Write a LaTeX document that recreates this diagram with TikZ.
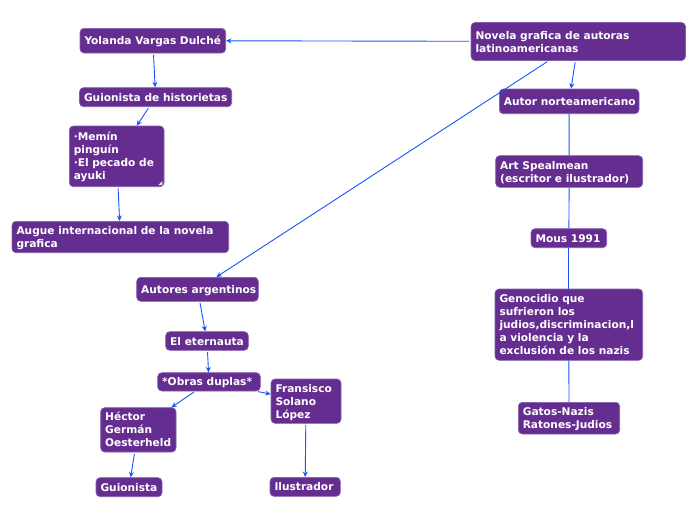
\documentclass[tikz,border=0pt]{standalone}
\usepackage{fontspec}
\setmainfont{DejaVu Sans}
\usetikzlibrary{arrows.meta}
\definecolor{boxfill}{RGB}{102,45,145}
\definecolor{boxline}{RGB}{130,95,170}
\definecolor{linkblue}{RGB}{25,85,255}
\tikzset{
  box/.style={rounded corners=4pt, fill=boxfill, draw=boxline, line width=0.6pt,
    text=white, inner sep=0pt, font=\fontsize{10.6}{13}\selectfont\bfseries},
  link/.style={draw=linkblue, line width=0.9pt, -{Stealth[length=5.5pt,width=5pt]}, shorten <=1.5pt},
  plainlink/.style={draw=linkblue, line width=0.9pt}
}
\newcommand\bx[6]{\node[box,minimum width={(#4-#2)*1pt},minimum height={(#5-#3)*1pt}] (#1) at ({(#2+#4)/2},{(#3+#5)/2}) {\raisebox{-1.5pt}[\height][\depth]{\makebox[\dimexpr#4pt-#2pt-9pt\relax][l]{\begin{tabular}{@{}l@{}}#6\end{tabular}}}};}
\begin{document}
\begin{tikzpicture}[x=1pt,y=-1pt]
\useasboundingbox[fill=white] (0,0) rectangle (697,520);
\bx{nov}{471}{22.5}{685.5}{60.5}{Novela grafica de autoras\\latinoamericanas}
\bx{yol}{80}{28.3}{225.7}{53}{Yolanda Vargas Dulché}
\bx{gh}{79.5}{87.7}{231.7}{106.7}{Guionista de historietas}
\bx{mem}{69.3}{126}{164}{186.7}{·Memín\\pinguín\\·El pecado de\\ayuki}
\bx{aug}{12}{221.3}{228.7}{252.7}{Augue internacional de la novela\\grafica}
\bx{arg}{136.7}{277.3}{258.3}{301.3}{Autores argentinos}
\bx{ete}{165.7}{331.7}{248.3}{350.3}{El eternauta}
\bx{obr}{157.7}{372.7}{260.3}{391}{*Obras duplas*}
\bx{fra}{271}{379}{341}{423.3}{Fransisco\\Solano\\López}
\bx{hec}{100.7}{407.7}{176}{452}{Héctor\\Germán\\Oesterheld}
\bx{gui}{96}{477.7}{162}{496.7}{Guionista}
\bx{ilu}{270}{477.3}{340.3}{496.3}{Ilustrador}
\bx{aut}{499.3}{89}{639}{113.7}{Autor norteamericano}
\bx{art}{495.7}{155.7}{642.7}{187.3}{Art Spealmean\\(escritor e ilustrador)}
\bx{mou}{531}{228.7}{606.7}{247.7}{Mous 1991}
\bx{gen}{495}{289}{642.7}{360.3}{Genocidio que\\sufrieron los\\judios,discriminacion,l\\a violencia y la\\exclusión de los nazis}
\bx{gat}{518.3}{402.3}{619.7}{434}{Gatos-Nazis\\Ratones-Judios}
\fill[white!85!boxfill] ([shift={(-2pt,2pt)}]mem.south east) -- ++(-4pt,0pt) -- ++(4pt,4pt) -- cycle;
\draw[link] (nov) -- (yol);
\draw[link] (nov) -- (aut);
\draw[link] (nov) -- (arg);
\draw[link] (yol) -- (gh);
\draw[link] (gh) -- (mem);
\draw[link] (mem) -- (aug);
\draw[link] (arg) -- (ete);
\draw[link] (ete) -- (obr);
\draw[link] (obr) -- (hec);
\draw[link] (obr) -- (fra);
\draw[link] (hec) -- (gui);
\draw[link] (fra) -- (ilu);
\draw[plainlink] (aut) -- (art);
\draw[plainlink] (art) -- (mou);
\draw[plainlink] (mou) -- (gen);
\draw[plainlink] (gen) -- (gat);
\end{tikzpicture}
\end{document}
